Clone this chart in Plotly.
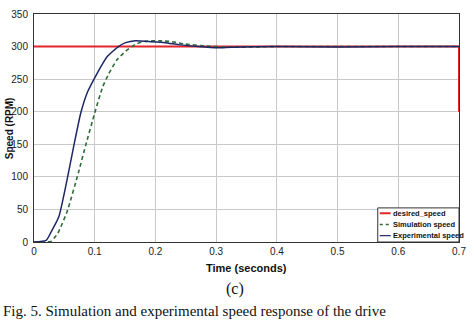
import plotly.graph_objects as go

# Desired speed (reference)
des_t = [0.0, 0.7, 0.7]
des_v = [300, 300, 200]

# Simulation speed (green dashed)
sim_t = [0.0, 0.020, 0.028, 0.039, 0.055, 0.073, 0.085, 0.100, 0.113, 0.123, 0.137,
         0.151, 0.167, 0.183, 0.205, 0.227, 0.248, 0.281, 0.325, 0.40, 0.50, 0.60, 0.70]
sim_v = [0, 0, 1, 13, 48, 106, 148, 198, 238, 258, 280,
         293, 303.5, 308, 309, 307.5, 304, 301, 299, 300, 300, 300, 300]

# Experimental speed (navy solid)
exp_t = [0.0, 0.020, 0.028, 0.041, 0.055, 0.065, 0.077, 0.088, 0.100, 0.110, 0.121,
         0.139, 0.151, 0.167, 0.194, 0.216, 0.238, 0.270, 0.303, 0.325, 0.40, 0.50, 0.60, 0.70]
exp_v = [0, 2.5, 15, 39, 98, 145, 198, 230, 252, 269, 285,
         300, 306, 309, 307.5, 306, 303, 300, 298, 299, 300, 299.5, 300, 300]

legend_names = ["desired_speed", "Simulation speed", "Experimental speed"]
x_ticks = [0, 0.1, 0.2, 0.3, 0.4, 0.5, 0.6, 0.7]
x_labels = ["0", "0.1", "0.2", "0.3", "0.4", "0.5", "0.6", "0.7"]
y_ticks = [0, 50, 100, 150, 200, 250, 300, 350]

RED = "#e3252c"
GREEN = "#2f6b3a"
NAVY = "#1c2766"

fig = go.Figure()
fig.add_trace(go.Scatter(x=des_t, y=des_v, mode="lines", name=legend_names[0],
                         line=dict(color=RED, width=2)))
fig.add_trace(go.Scatter(x=sim_t, y=sim_v, mode="lines", name=legend_names[1],
                         line=dict(color=GREEN, width=1.6, dash="4px,3px", shape="spline", smoothing=0.5)))
fig.add_trace(go.Scatter(x=exp_t, y=exp_v, mode="lines", name=legend_names[2],
                         line=dict(color=NAVY, width=1.5, shape="spline", smoothing=0.5)))

W, H = 474, 322
L, R, T, B = 34, 11, 8, 80
ph = H - T - B
pw = W - L - R

def py(p):
    return (H - B - p) / ph

def px(x):
    return (x - L) / pw

axis_common = dict(showgrid=True, gridcolor="#c9c9c9", gridwidth=1,
                   showline=True, linecolor="#333333", linewidth=1, mirror=True,
                   zeroline=False, ticks="",
                   tickfont=dict(family="Liberation Sans", size=10, color="#222222"))

fig.update_layout(
    width=W, height=H,
    margin=dict(l=L, r=R, t=T, b=B),
    paper_bgcolor="white", plot_bgcolor="white",
    showlegend=False,
    xaxis=dict(range=[0, 0.7], tickvals=x_ticks, ticktext=x_labels, **axis_common),
    yaxis=dict(range=[0, 350], tickvals=y_ticks, ticklabelstandoff=3, **axis_common),
)

annots = [
    dict(text="<b>Time (seconds)</b>", x=0.5, xref="paper", y=py(269), yref="paper",
         showarrow=False, font=dict(family="Liberation Sans Narrow, Liberation Sans", size=11, color="#111111"),
         xanchor="center", yanchor="middle"),
    dict(text="<b>Speed (RPM)</b>", x=px(9), xref="paper", y=0.5, yref="paper",
         showarrow=False, textangle=-90,
         font=dict(family="Liberation Sans", size=10, color="#111111"),
         xanchor="center", yanchor="middle"),
    dict(text="(c)", x=px(237), xref="paper", y=py(290), yref="paper",
         showarrow=False, font=dict(family="Liberation Serif", size=16, color="#111111"),
         xanchor="center", yanchor="middle"),
    dict(text="Fig. 5. Simulation and experimental speed response of the drive",
         x=px(1), xref="paper", y=py(323), yref="paper",
         showarrow=False, font=dict(family="Liberation Serif", size=15, color="#111111"),
         xanchor="left", yanchor="bottom"),
]

# Manual compact legend (matches reference box in lower-right)
lx0, lx1, ly0, ly1 = 381, 463, 207, 242
shapes = [dict(type="rect", xref="paper", yref="paper", x0=px(lx0), x1=px(lx1),
               y0=py(ly1), y1=py(ly0), line=dict(color="#333333", width=1), fillcolor="white",
               layer="above")]
rows = [212.5, 224, 235.5]
styles = [dict(color=RED, width=2), dict(color=GREEN, width=1.6, dash="3px,3px"),
          dict(color=NAVY, width=1.2)]
for yy, st, nm in zip(rows, styles, legend_names):
    shapes.append(dict(type="line", xref="paper", yref="paper", x0=px(383), x1=px(394),
                       y0=py(yy), y1=py(yy), line=st, layer="above"))
    annots.append(dict(text="<b>" + nm + "</b>", x=px(394), xref="paper", y=py(yy), yref="paper",
                       showarrow=False, xanchor="left", yanchor="middle",
                       font=dict(family="Liberation Sans Narrow, Liberation Sans", size=7.5, color="#111111")))

fig.update_layout(annotations=annots, shapes=shapes)
fig.write_html("out.html")
